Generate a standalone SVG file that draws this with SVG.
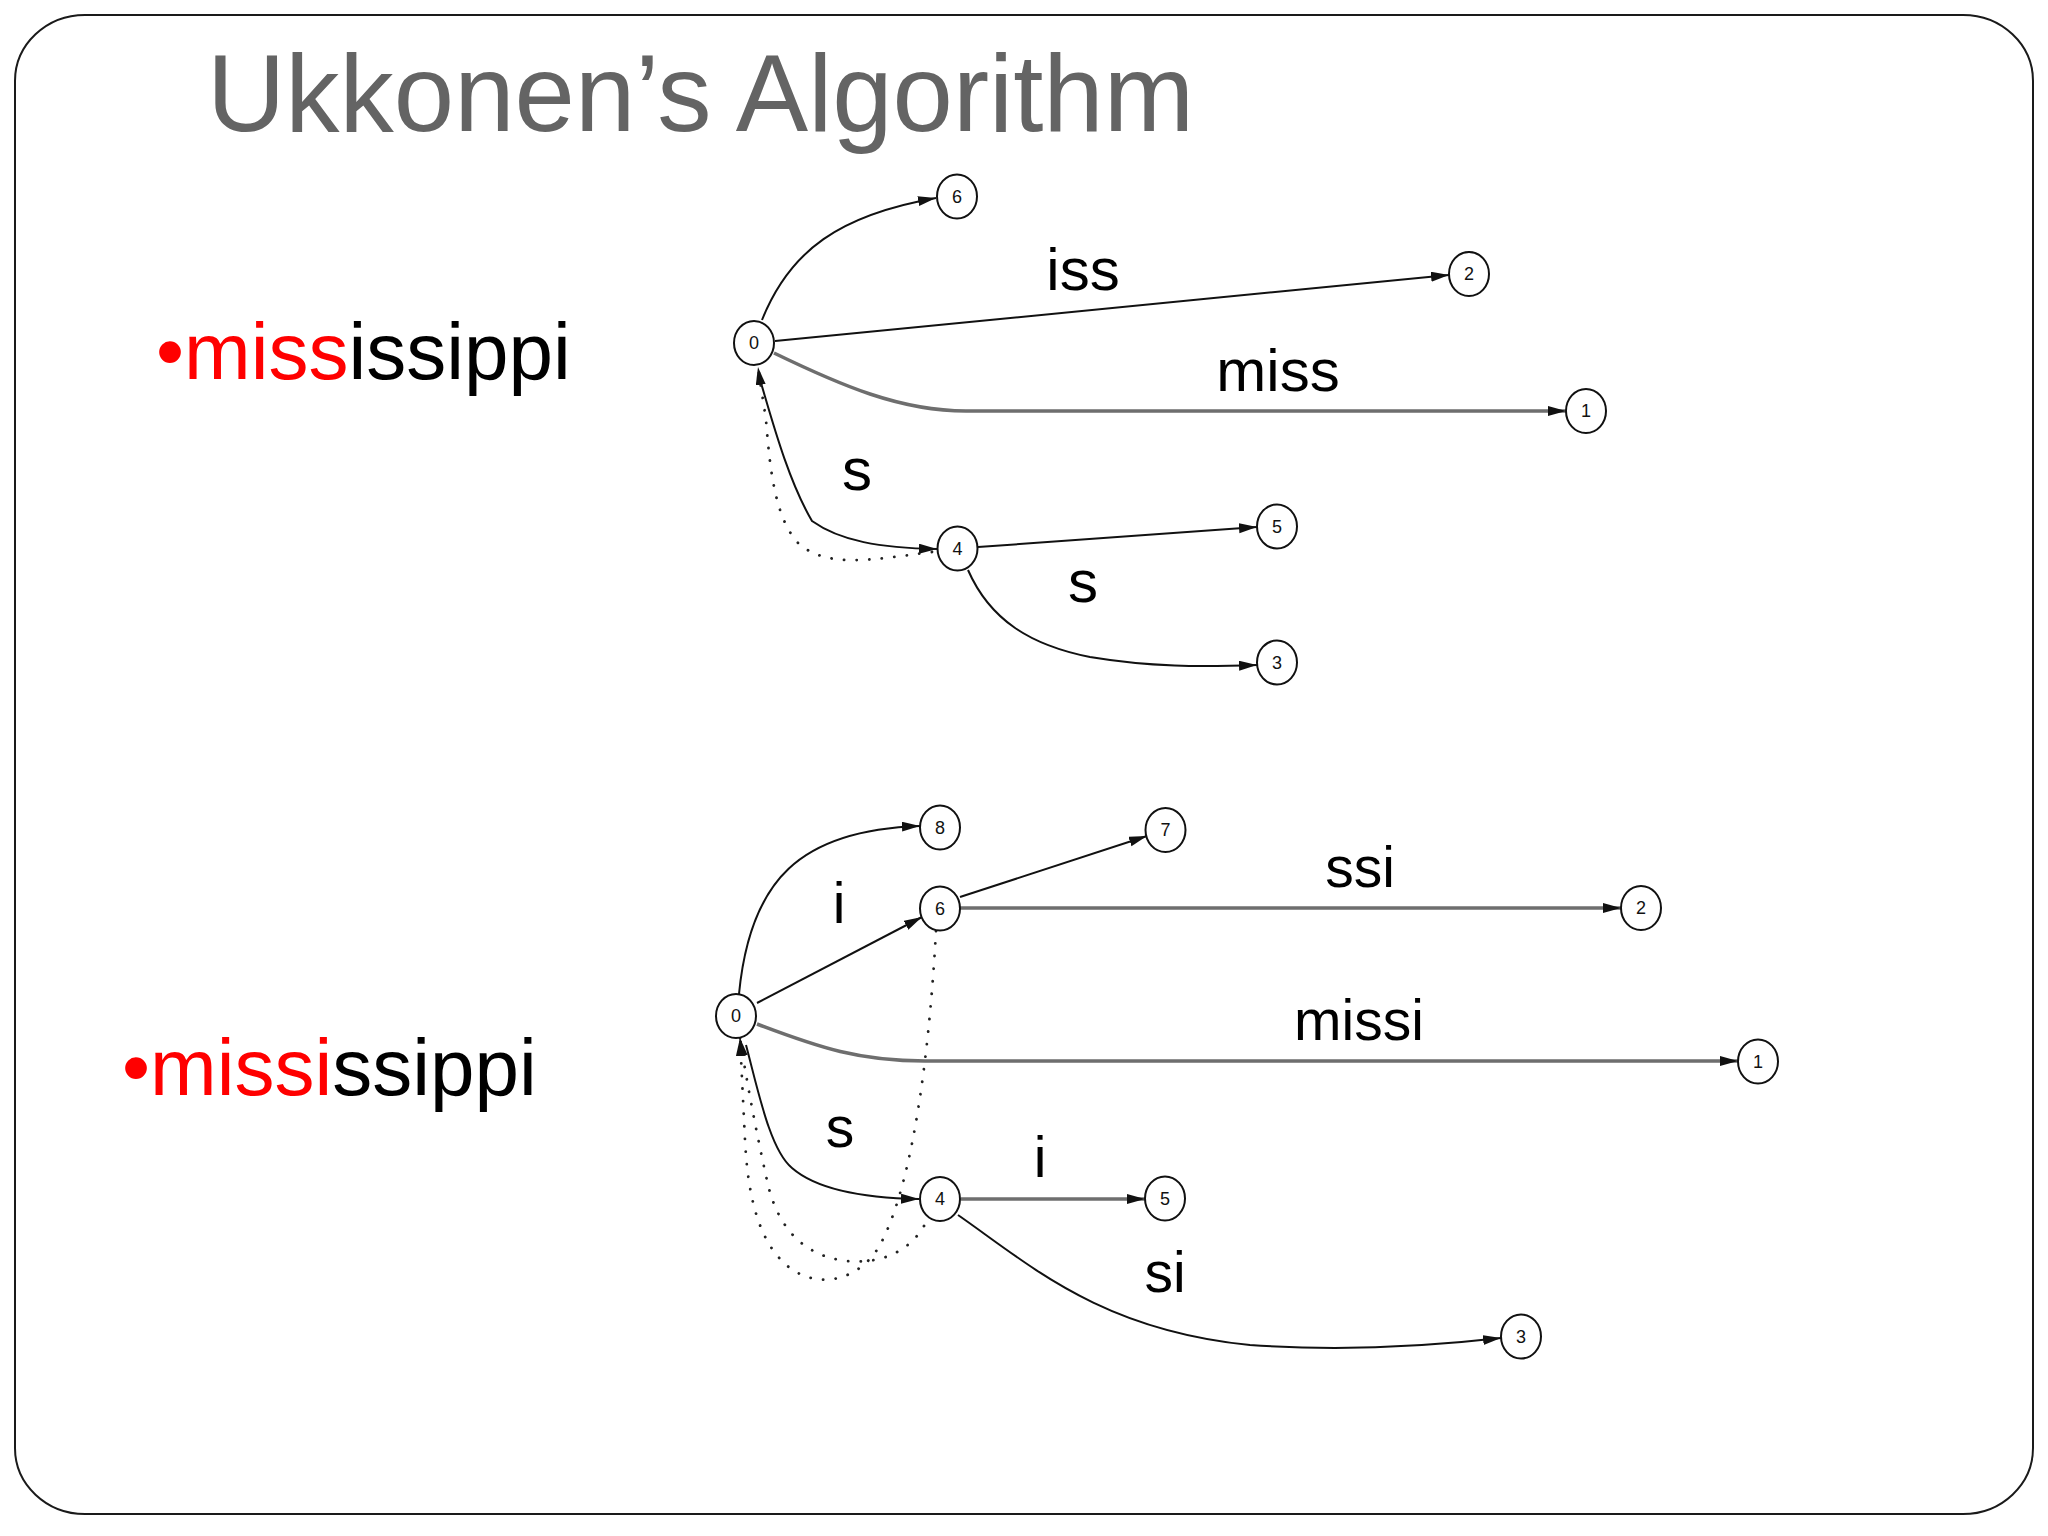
<svg xmlns="http://www.w3.org/2000/svg" width="2048" height="1536" viewBox="0 0 2048 1536">
<defs>
<marker id="ah" markerUnits="userSpaceOnUse" markerWidth="20" markerHeight="12" refX="18" refY="5" orient="auto">
<path d="M0,0 L18,5 L0,10 z" fill="#111"/>
</marker>
<style>
.node ellipse{fill:#fff;stroke:#111;stroke-width:2}
.node text{font-family:"Liberation Sans",Arial,sans-serif;font-size:18px;fill:#111;text-anchor:middle}
.e{fill:none;stroke:#111;stroke-width:2;marker-end:url(#ah)}
.h{fill:none;stroke:#6e6e6e;stroke-width:3.5;marker-end:url(#ah)}
.d{fill:none;stroke:#222;stroke-width:2.8;stroke-dasharray:0.1 12.5;stroke-linecap:round;marker-end:url(#ah)}
.lbl{font-family:"Liberation Sans",Arial,sans-serif;fill:#000;text-anchor:middle}
.t{font-size:60px}
.b{font-size:57px}
.word{font-family:"Liberation Sans",Arial,sans-serif;font-size:80px}
</style>
</defs>
<rect x="0" y="0" width="2048" height="1536" fill="#fff"/>
<rect x="15" y="15" width="2018" height="1499" rx="70" ry="66" fill="#fff" stroke="#1a1a1a" stroke-width="2"/>
<text x="207" y="131" font-family="Liberation Sans,Arial,sans-serif" font-size="108.5" fill="#646464">Ukkonen’s Algorithm</text>
<text class="word" x="156" y="379"><tspan fill="#ff0000">•miss</tspan><tspan fill="#000">issippi</tspan></text>
<text class="word" x="122" y="1095"><tspan fill="#ff0000">•missi</tspan><tspan fill="#000">ssippi</tspan></text>

<g id="connectors">
<!-- top tree -->
<path class="e" d="M762 320 C790 250 840 215 936 198"/>
<path class="e" d="M775 341 L1449 275"/>
<path class="h" d="M774 353 C840 385 900 411 966 411 L1566 411"/>
<path class="e" d="M761 383 C772 420 788 480 812 521 C840 541 880 548 937 549"/>
<path class="d" d="M932 552 C870 560 830 568 800 545 C775 520 770 470 766 420 L758 367"/>
<path class="e" d="M978 547 L1257 527"/>
<path class="e" d="M968 570 C990 620 1030 645 1090 657 C1150 667 1200 667 1257 665"/>
<!-- bottom tree -->
<path class="e" d="M739 994 C750 880 800 830 920 826"/>
<path class="e" d="M757 1003 L922 917"/>
<path class="e" d="M960 897 L1147 836"/>
<path class="h" d="M960 908 L1621 908"/>
<path class="h" d="M757 1024 C820 1048 860 1061 925 1061 L1738 1061"/>
<path class="e" d="M746 1045 C758 1090 770 1150 792 1168 C815 1188 860 1198 919 1199"/>
<path class="d" d="M936 931 C930 1040 915 1180 880 1245 C860 1280 820 1290 790 1268 C760 1245 748 1200 745 1140 L740 1038"/>
<path class="d" d="M924 1226 C905 1258 870 1265 840 1260 C800 1253 778 1225 768 1185 C758 1140 748 1090 740 1038"/>
<path class="h" d="M961 1199 L1145 1199"/>
<path class="e" d="M958 1215 C1030 1265 1100 1330 1250 1345 C1350 1352 1440 1345 1501 1338"/>
</g>

<g id="labels">
<text class="lbl t" x="1083" y="290">iss</text>
<text class="lbl t" x="1278" y="391">miss</text>
<text class="lbl t" x="857" y="490">s</text>
<text class="lbl t" x="1083" y="602">s</text>
<text class="lbl b" x="839" y="923">i</text>
<text class="lbl b" x="1360" y="887">ssi</text>
<text class="lbl b" x="1359" y="1040">missi</text>
<text class="lbl b" x="840" y="1147">s</text>
<text class="lbl b" x="1040" y="1177">i</text>
<text class="lbl b" x="1165" y="1292">si</text>
</g>

<g id="top-n0" class="node"><ellipse cx="754" cy="343" rx="20" ry="22"/><text x="754" y="349">0</text></g>
<g id="top-n6" class="node"><ellipse cx="957" cy="196.5" rx="20" ry="22"/><text x="957" y="202.5">6</text></g>
<g id="top-n2" class="node"><ellipse cx="1469" cy="274" rx="20" ry="22"/><text x="1469" y="280">2</text></g>
<g id="top-n1" class="node"><ellipse cx="1586" cy="411" rx="20" ry="22"/><text x="1586" y="417">1</text></g>
<g id="top-n5" class="node"><ellipse cx="1277" cy="526.5" rx="20" ry="22"/><text x="1277" y="532.5">5</text></g>
<g id="top-n4" class="node"><ellipse cx="957.5" cy="548.5" rx="20" ry="22"/><text x="957.5" y="554.5">4</text></g>
<g id="top-n3" class="node"><ellipse cx="1277" cy="662.5" rx="20" ry="22"/><text x="1277" y="668.5">3</text></g>

<g id="bot-n0" class="node"><ellipse cx="736" cy="1016" rx="20" ry="22"/><text x="736" y="1022">0</text></g>
<g id="bot-n8" class="node"><ellipse cx="940" cy="827.5" rx="20" ry="22"/><text x="940" y="833.5">8</text></g>
<g id="bot-n7" class="node"><ellipse cx="1165.5" cy="830" rx="20" ry="22"/><text x="1165.5" y="836">7</text></g>
<g id="bot-n6" class="node"><ellipse cx="940" cy="908.5" rx="20" ry="22"/><text x="940" y="914.5">6</text></g>
<g id="bot-n2" class="node"><ellipse cx="1641" cy="908" rx="20" ry="22"/><text x="1641" y="914">2</text></g>
<g id="bot-n1" class="node"><ellipse cx="1758" cy="1061.5" rx="20" ry="22"/><text x="1758" y="1067.5">1</text></g>
<g id="bot-n4" class="node"><ellipse cx="940" cy="1199" rx="20" ry="22"/><text x="940" y="1205">4</text></g>
<g id="bot-n5" class="node"><ellipse cx="1165" cy="1198.5" rx="20" ry="22"/><text x="1165" y="1204.5">5</text></g>
<g id="bot-n3" class="node"><ellipse cx="1521" cy="1336.5" rx="20" ry="22"/><text x="1521" y="1342.5">3</text></g>
</svg>
